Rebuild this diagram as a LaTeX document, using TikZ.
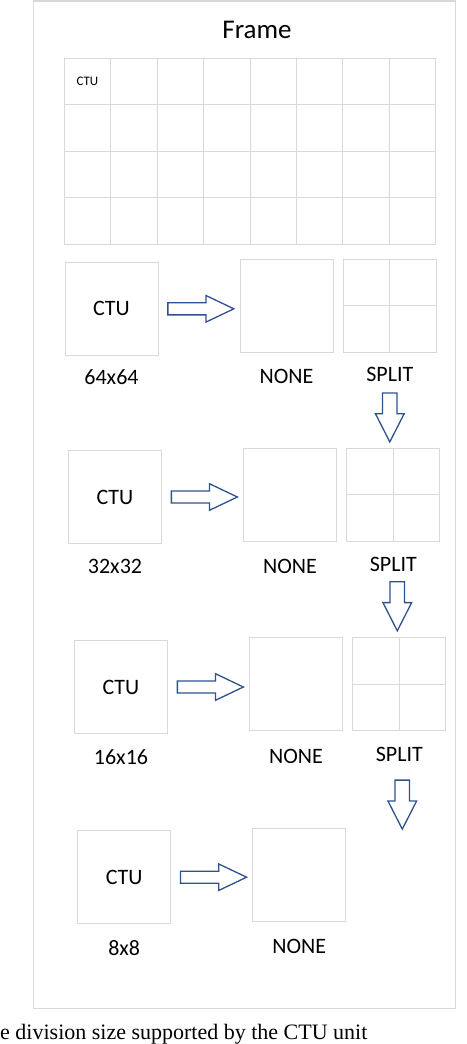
\documentclass[tikz,border=0pt]{standalone}
\usepackage{fontspec}
\setmainfont{Carlito}
\newfontfamily\capfont{Liberation Serif}
\usetikzlibrary{shapes.arrows}
\definecolor{boxgray}{RGB}{217,217,217}
\definecolor{arrowblue}{HTML}{2F528F}

\begin{document}
\begin{tikzpicture}[x=1pt, y=-1pt,
  cell/.style={draw=boxgray, line width=0.9pt, minimum size=93pt, inner sep=0pt, font=\fontsize{22}{26}\selectfont},
  lbl/.style={font=\fontsize{22}{26}\selectfont, inner sep=0pt},
  rarrow/.style={single arrow, draw=arrowblue, fill=white, line width=1.3pt, inner sep=5.3pt, minimum height=66pt, minimum width=26.6pt, single arrow tip angle=51},
  darrow/.style={single arrow, shape border rotate=270, draw=arrowblue, fill=white, line width=1.3pt, inner sep=6.6pt, minimum height=49pt, minimum width=27.7pt, single arrow tip angle=54}]

  \useasboundingbox (0,0) rectangle (466,1044);

  %% outer frame and grid of CTUs
  \draw[boxgray, line width=1.2pt] (33.3,1) rectangle (455.3,1008.3);
  \node (Title) at (257,29.5) {\fontsize{27}{32}\selectfont Frame};

  \foreach \i in {0,...,8}
    \draw[boxgray, line width=0.9pt] (64.3+\i*46.425,58.3) -- ++(0,186);
  \foreach \j in {0,...,4}
    \draw[boxgray, line width=0.9pt] (64.3,58.3+\j*46.5) -- ++(371.4,0);
  \node (GridCTU) at (87.5,81.5) {\fontsize{13}{15}\selectfont CTU};

  %% 64x64
  \node (CTU1) [cell] at (111.5,308.8) {CTU};
  \node (Arrow1) [rarrow, node distance=83pt, right of=CTU1] {};
  \node (NONE1) [cell, node distance=175pt, right of=CTU1, yshift=3pt] {};
  \node (SPLIT1) [cell, node distance=103.3pt, right of=NONE1] {};
  \draw[boxgray, line width=0.9pt] (SPLIT1.north) -- (SPLIT1.south) (SPLIT1.west) -- (SPLIT1.east);
  \node (Size1) [lbl, node distance=68pt, below of=CTU1] {64x64};
  \node (NoneLbl1) [lbl, node distance=71pt, below of=NONE1] {NONE};
  \node (SplitLbl1) [lbl, node distance=69pt, below of=SPLIT1] {SPLIT};
  \node (Down1) [darrow, node distance=35.5pt, below of=SplitLbl1] {};

  %% 32x32
  \node (CTU2) [cell] at (115,497) {CTU};
  \node (Arrow2) [rarrow, node distance=83pt, right of=CTU2] {};
  \node (NONE2) [cell, node distance=175pt, right of=CTU2, yshift=2.5pt] {};
  \node (SPLIT2) [cell, node distance=103.3pt, right of=NONE2] {};
  \draw[boxgray, line width=0.9pt] (SPLIT2.north) -- (SPLIT2.south) (SPLIT2.west) -- (SPLIT2.east);
  \node (Size2) [lbl, node distance=69.5pt, below of=CTU2] {32x32};
  \node (NoneLbl2) [lbl, node distance=71.5pt, below of=NONE2] {NONE};
  \node (SplitLbl2) [lbl, node distance=69.5pt, below of=SPLIT2] {SPLIT};
  \node (Down2) [darrow, node distance=35.2pt, below of=SplitLbl2, xshift=4pt] {};

  %% 16x16
  \node (CTU3) [cell] at (121,687) {CTU};
  \node (Arrow3) [rarrow, node distance=83pt, right of=CTU3] {};
  \node (NONE3) [cell, node distance=175pt, right of=CTU3, yshift=3pt] {};
  \node (SPLIT3) [cell, node distance=103.3pt, right of=NONE3] {};
  \draw[boxgray, line width=0.9pt] (SPLIT3.north) -- (SPLIT3.south) (SPLIT3.west) -- (SPLIT3.east);
  \node (Size3) [lbl, node distance=69.7pt, below of=CTU3] {16x16};
  \node (NoneLbl3) [lbl, node distance=72.5pt, below of=NONE3] {NONE};
  \node (SplitLbl3) [lbl, node distance=70pt, below of=SPLIT3] {SPLIT};
  \node (Down3) [darrow, node distance=43.5pt, below of=SplitLbl3, xshift=3pt] {};

  %% 8x8
  \node (CTU4) [cell] at (124.2,877.2) {CTU};
  \node (Arrow4) [rarrow, node distance=83pt, right of=CTU4] {};
  \node (NONE4) [cell, node distance=175pt, right of=CTU4, yshift=2.4pt] {};
  \node (Size4) [lbl, node distance=71pt, below of=CTU4] {8x8};
  \node (NoneLbl4) [lbl, node distance=72pt, below of=NONE4] {NONE};

  \node (Caption) [anchor=base west, inner sep=0pt] at (0,1039) {\capfont\fontsize{22}{26}\selectfont e division size supported by the CTU unit};

\end{tikzpicture}
\end{document}
